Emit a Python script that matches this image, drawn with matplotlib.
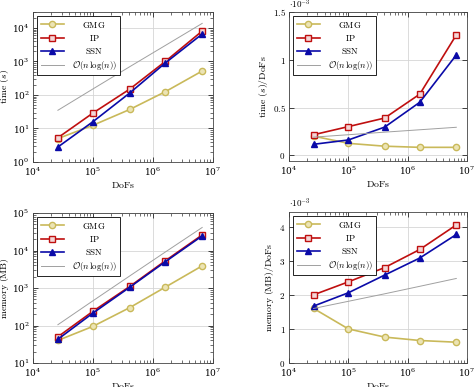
import matplotlib
matplotlib.use("Agg")
import matplotlib.pyplot as plt
import numpy as np

plt.rcParams['mathtext.fontset'] = 'cm'
plt.rcParams['font.family'] = 'serif'
plt.rcParams['font.serif'] = ['DejaVu Serif']
plt.rcParams['font.size'] = 6.5

# donnees
dofs = [2.6e4, 1.0e5, 4.1e5, 1.6e6, 6.6e6]

time_gmg = [5.0, 12.5, 37, 125, 520]
time_ip = [5.3, 29, 150, 1000, 8100]
time_ssn = [2.8, 16, 115, 900, 6600]
time_ref = [35, 152, 700, 3000, 13700]

# temps par DoF, en unites de 1e-3
tpd_gmg = [0.20, 0.125, 0.095, 0.083, 0.083]
tpd_ip = [0.215, 0.30, 0.39, 0.64, 1.26]
tpd_ssn = [0.115, 0.16, 0.295, 0.555, 1.05]
tpd_ref = [0.19, 0.215, 0.242, 0.267, 0.293]

mem_gmg = [40, 95, 300, 1050, 3900]
mem_ip = [50, 240, 1100, 5300, 26000]
mem_ssn = [43, 215, 1050, 5000, 24500]
mem_ref = [105, 457, 2100, 9080, 41100]

# memoire par DoF, en unites de 1e-3
mpd_gmg = [1.6, 1.0, 0.76, 0.66, 0.61]
mpd_ip = [2.0, 2.38, 2.8, 3.33, 4.05]
mpd_ssn = [1.67, 2.06, 2.58, 3.08, 3.77]
mpd_ref = [1.6, 1.81, 2.03, 2.25, 2.48]

labels = [r'$\mathrm{GMG}$', r'$\mathrm{IP}$', r'$\mathrm{SSN}$', r'$\mathcal{O}(n\,\log(n))$']

c_gmg = '#c9b95a'
c_ip = '#bf0f0f'
c_ssn = '#0a0aa8'
c_ref = '#a0a0a0'

fig = plt.figure(figsize=(4.74, 3.87), dpi=100)
W, H = 474, 387


def mk_ax(l, t, r, b):
    return fig.add_axes([l / W, 1 - b / H, (r - l) / W, (b - t) / H])


ax1 = mk_ax(33, 12, 213, 162)
ax2 = mk_ax(289, 12, 467, 161)
ax3 = mk_ax(33, 213, 213, 363)
ax4 = mk_ax(289, 212, 467, 363)

legends = []


def draw(ax, g, i, s, ref):
    ax.plot(dofs, g, '-o', color=c_gmg, lw=1.2, ms=4.5, mfc='#ece4b4', mec=c_gmg, mew=1.0, label=labels[0])
    ax.plot(dofs, i, '-s', color=c_ip, lw=1.2, ms=4.5, mfc='#f4d6d6', mec=c_ip, mew=1.0, label=labels[1])
    ax.plot(dofs, s, '-^', color=c_ssn, lw=1.2, ms=4.5, mfc=c_ssn, mec=c_ssn, label=labels[2])
    ax.plot(dofs, ref, '-', color=c_ref, lw=0.7, label=labels[3])
    ax.set_xscale('log')
    ax.set_xlim(1e4, 1e7)
    ax.grid(True, which='major', color='#d6d6d6', lw=0.6)
    ax.set_axisbelow(True)
    ax.tick_params(which='both', direction='in', top=True, right=True, labelsize=6.5, pad=2.5)
    ax.tick_params(which='major', length=3.5, width=0.5)
    ax.tick_params(which='minor', length=2, width=0.4)
    for sp in ax.spines.values():
        sp.set_linewidth(0.6)
        sp.set_color('#444444')
    ax.set_xlabel(r'$\mathrm{DoFs}$', fontsize=7, labelpad=1.5)
    leg = ax.legend(loc='upper left', fancybox=False, framealpha=1, edgecolor='black',
                    fontsize=6.4, handlelength=2.6, borderpad=0.35, labelspacing=0.35,
                    handletextpad=0.9, borderaxespad=0.5)
    leg.get_frame().set_linewidth(0.6)
    legends.append(leg)


draw(ax1, time_gmg, time_ip, time_ssn, time_ref)
ax1.set_yscale('log')
ax1.set_ylim(1, 3e4)
ax1.set_ylabel(r'$\mathrm{time}\ (s)$', fontsize=7, labelpad=1)

draw(ax2, tpd_gmg, tpd_ip, tpd_ssn, tpd_ref)
ax2.set_ylim(-0.06, 1.5)
ax2.set_yticks([0, 0.5, 1, 1.5])
ax2.set_yticklabels([r'$0$', r'$0.5$', r'$1$', r'$1.5$'])
ax2.set_ylabel(r'$\mathrm{time}\ (s)/\mathrm{DoFs}$', fontsize=7, labelpad=2)
ax2.text(0.0, 1.01, r'$\cdot 10^{-3}$', transform=ax2.transAxes, fontsize=6.5, va='bottom')

draw(ax3, mem_gmg, mem_ip, mem_ssn, mem_ref)
ax3.set_yscale('log')
ax3.set_ylim(10, 1e5)
ax3.set_ylabel(r'$\mathrm{memory\ (MB)}$', fontsize=7, labelpad=1)

draw(ax4, mpd_gmg, mpd_ip, mpd_ssn, mpd_ref)
ax4.set_ylim(0, 4.43)
ax4.set_yticks([0, 1, 2, 3, 4])
ax4.set_yticklabels([r'$0$', r'$1$', r'$2$', r'$3$', r'$4$'])
ax4.set_ylabel(r'$\mathrm{memory\ (MB)/DoFs}$', fontsize=7, labelpad=2)
ax4.text(0.0, 1.01, r'$\cdot 10^{-3}$', transform=ax4.transAxes, fontsize=6.5, va='bottom')

# centrer les textes de legende comme pgfplots
renderer = fig.canvas.get_renderer()
for leg in legends:
    txts = leg.get_texts()
    ws = [t.get_window_extent(renderer).width for t in txts]
    wmax = max(ws)
    for t, w in zip(txts, ws):
        t.set_position(((wmax - w) / 2, 0))

fig.savefig('out.png', dpi=100)
